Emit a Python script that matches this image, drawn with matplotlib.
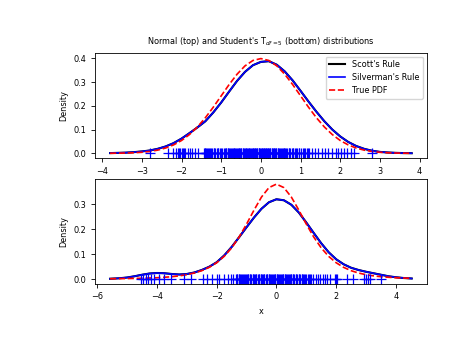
import numpy as np
import matplotlib
matplotlib.use("Agg")
import matplotlib.pyplot as plt

# ---------------- data ----------------
# Top panel: Normal sample
support_top = [-3.8, -3.6, -3.4, -3.2, -3.0, -2.8, -2.6, -2.4, -2.2, -2.0,
               -1.8, -1.6, -1.4, -1.2, -1.0, -0.8, -0.6, -0.4, -0.2, 0.0,
               0.2, 0.4, 0.6, 0.8, 1.0, 1.2, 1.4, 1.6, 1.8, 2.0,
               2.2, 2.4, 2.6, 2.8, 3.0, 3.2, 3.4, 3.6, 3.8]
silverman_top = [0.001, 0.002, 0.003, 0.005, 0.008, 0.012, 0.019, 0.029, 0.043, 0.062,
                 0.085, 0.109, 0.135, 0.172, 0.214, 0.260, 0.305, 0.343, 0.371, 0.385,
                 0.388, 0.373, 0.345, 0.307, 0.263, 0.218, 0.175, 0.135, 0.100, 0.071,
                 0.048, 0.031, 0.019, 0.011, 0.006, 0.0035, 0.002, 0.001, 0.0005]
scott_top = [0.001, 0.002, 0.003, 0.005, 0.008, 0.012, 0.019, 0.029, 0.043, 0.062,
             0.085, 0.109, 0.135, 0.172, 0.214, 0.260, 0.305, 0.343, 0.371, 0.385,
             0.388, 0.373, 0.345, 0.307, 0.263, 0.218, 0.175, 0.135, 0.100, 0.071,
             0.048, 0.031, 0.019, 0.011, 0.006, 0.0035, 0.002, 0.001, 0.0005]
true_top = [0.0003, 0.0006, 0.0012, 0.0024, 0.0044, 0.0079, 0.0136, 0.0224, 0.0355, 0.0540,
            0.0790, 0.1109, 0.1497, 0.1942, 0.2420, 0.2897, 0.3332, 0.3683, 0.3910, 0.3989,
            0.3910, 0.3683, 0.3332, 0.2897, 0.2420, 0.1942, 0.1497, 0.1109, 0.0790, 0.0540,
            0.0355, 0.0224, 0.0136, 0.0079, 0.0044, 0.0024, 0.0012, 0.0006, 0.0003]
rug_top = [-2.79, -2.34, -2.22, -2.15, -2.10, -2.06, -2.03, -2.00, -1.97, -1.94,
           -1.91, -1.84, -1.78, -1.73, -1.67, -1.58, -1.44, -1.42, -1.40, -1.38,
           -1.36, -1.33, -1.31, -1.29, -1.25, -1.22, -1.19, -1.17, -1.15, -1.11,
           -1.09, -1.07, -1.03, -1.00, -0.98, -0.94, -0.91, -0.89, -0.87, -0.84,
           -0.82, -0.80, -0.77, -0.75, -0.73, -0.70, -0.68, -0.67, -0.64, -0.62,
           -0.61, -0.58, -0.56, -0.55, -0.52, -0.50, -0.49, -0.46, -0.44, -0.43,
           -0.40, -0.38, -0.37, -0.34, -0.32, -0.31, -0.29, -0.27, -0.26, -0.23,
           -0.21, -0.20, -0.17, -0.16, -0.15, -0.12, -0.10, -0.09, -0.06, -0.05,
           -0.04, -0.01, 0.00, 0.02, 0.04, 0.05, 0.07, 0.09, 0.10, 0.12,
           0.14, 0.15, 0.18, 0.19, 0.21, 0.23, 0.24, 0.27, 0.28, 0.30,
           0.33, 0.34, 0.36, 0.38, 0.39, 0.42, 0.44, 0.45, 0.48, 0.50,
           0.52, 0.55, 0.57, 0.58, 0.62, 0.64, 0.66, 0.70, 0.72, 0.74,
           0.78, 0.80, 0.82, 0.86, 0.88, 0.90, 0.95, 0.97, 1.00, 1.05,
           1.08, 1.10, 1.16, 1.19, 1.22, 1.28, 1.36, 1.45, 1.55, 1.62,
           1.70, 1.80, 1.88, 1.95, 2.03, 2.10, 2.18, 2.27, 2.35, 2.80]

# Bottom panel: Student's t (df=5) sample
support_bot = [-5.57, -5.25, -5.0, -4.75, -4.5, -4.25, -4.0, -3.75, -3.5, -3.25,
               -3.0, -2.75, -2.5, -2.25, -2.0, -1.75, -1.5, -1.25, -1.0, -0.75,
               -0.5, -0.25, 0.0, 0.25, 0.5, 0.75, 1.0, 1.25, 1.5, 1.75,
               2.0, 2.25, 2.5, 2.75, 3.0, 3.25, 3.5, 3.75, 4.0, 4.25, 4.53]
silverman_bot = [0.001, 0.003, 0.006, 0.011, 0.017, 0.022, 0.024, 0.023, 0.020, 0.018,
                 0.020, 0.026, 0.036, 0.049, 0.067, 0.094, 0.128, 0.167, 0.207, 0.246,
                 0.281, 0.307, 0.319, 0.315, 0.297, 0.266, 0.226, 0.184, 0.143, 0.107,
                 0.079, 0.059, 0.045, 0.036, 0.029, 0.023, 0.017, 0.011, 0.007, 0.004, 0.002]
scott_bot = [0.001, 0.003, 0.006, 0.011, 0.017, 0.022, 0.024, 0.023, 0.020, 0.018,
             0.020, 0.026, 0.036, 0.049, 0.067, 0.094, 0.128, 0.167, 0.207, 0.246,
             0.281, 0.307, 0.319, 0.315, 0.297, 0.266, 0.226, 0.184, 0.143, 0.107,
             0.079, 0.059, 0.045, 0.036, 0.029, 0.023, 0.017, 0.011, 0.007, 0.004, 0.002]
true_bot = [0.0010, 0.0014, 0.0018, 0.0023, 0.0030, 0.0039, 0.0051, 0.0069, 0.0092, 0.0126,
            0.0173, 0.0239, 0.0333, 0.0466, 0.0651, 0.0905, 0.1245, 0.1679, 0.2197, 0.2757,
            0.3279, 0.3657, 0.3796, 0.3657, 0.3279, 0.2757, 0.2197, 0.1679, 0.1245, 0.0905,
            0.0651, 0.0466, 0.0333, 0.0239, 0.0173, 0.0126, 0.0092, 0.0069, 0.0051, 0.0039, 0.0029]
rug_bot = [-4.55, -4.47, -4.38, -4.30, -4.20, -4.09, -3.92, -3.76, -3.52, -3.10,
           -2.85, -2.45, -2.32, -2.15, -1.98, -1.93, -1.75, -1.62, -1.52, -1.45,
           -1.35, -1.33, -1.31, -1.26, -1.24, -1.22, -1.17, -1.15, -1.12, -1.08,
           -1.05, -1.03, -0.99, -0.96, -0.94, -0.90, -0.88, -0.85, -0.80, -0.78,
           -0.76, -0.71, -0.69, -0.67, -0.62, -0.60, -0.58, -0.53, -0.51, -0.49,
           -0.44, -0.42, -0.40, -0.35, -0.33, -0.31, -0.26, -0.24, -0.22, -0.17,
           -0.15, -0.13, -0.08, -0.06, -0.04, 0.01, 0.03, 0.05, 0.10, 0.12,
           0.14, 0.19, 0.21, 0.23, 0.28, 0.30, 0.32, 0.37, 0.39, 0.41,
           0.46, 0.48, 0.50, 0.55, 0.57, 0.60, 0.64, 0.66, 0.69, 0.74,
           0.76, 0.79, 0.84, 0.86, 0.89, 0.94, 0.97, 0.99, 1.05, 1.08,
           1.11, 1.17, 1.24, 1.31, 1.39, 1.47, 1.55, 1.62, 1.70, 1.80,
           1.95, 2.00, 2.02, 2.38, 2.55, 2.93, 3.00, 3.08, 3.15, 3.50]

title = "Normal (top) and Student's T$_{df=5}$ (bottom) distributions"
legend_labels = ["Scott's Rule", "Silverman's Rule", "True PDF"]

# ---------------- figure ----------------
fs = 5.9
plt.rcParams['font.size'] = fs
fig = plt.figure(figsize=(4.74, 3.55), dpi=100)
ax1 = fig.add_axes([0.2004, 0.554, 0.700, 0.2975])
ax2 = fig.add_axes([0.2004, 0.200, 0.700, 0.2950])

for ax, sup, sc, si, tr, rug in [
        (ax1, support_top, scott_top, silverman_top, true_top, rug_top),
        (ax2, support_bot, scott_bot, silverman_bot, true_bot, rug_bot)]:
    ax.plot(sup, sc, lw=1.5, color='black', label=legend_labels[0])
    ax.plot(sup, si, lw=1.2, color='blue', label=legend_labels[1])
    ax.plot(sup, tr, lw=1.2, color='red', ls='--', label=legend_labels[2])
    ax.plot(rug, np.zeros(len(rug)), '+', color='blue', ms=6.7, mew=0.9)
    ax.set_xlabel('x', fontsize=fs)
    ax.set_ylabel('Density', fontsize=fs)
    ax.tick_params(labelsize=fs, length=2.6, width=0.6)
    for s in ax.spines.values():
        s.set_linewidth(0.6)

ax1.set_ylim(-0.021, 0.4236)
ax2.set_ylim(-0.02, 0.399)
ax1.set_title(title, fontsize=fs)
ax1.legend(loc='upper right', fontsize=fs)

fig.savefig('out.png', dpi=100)
